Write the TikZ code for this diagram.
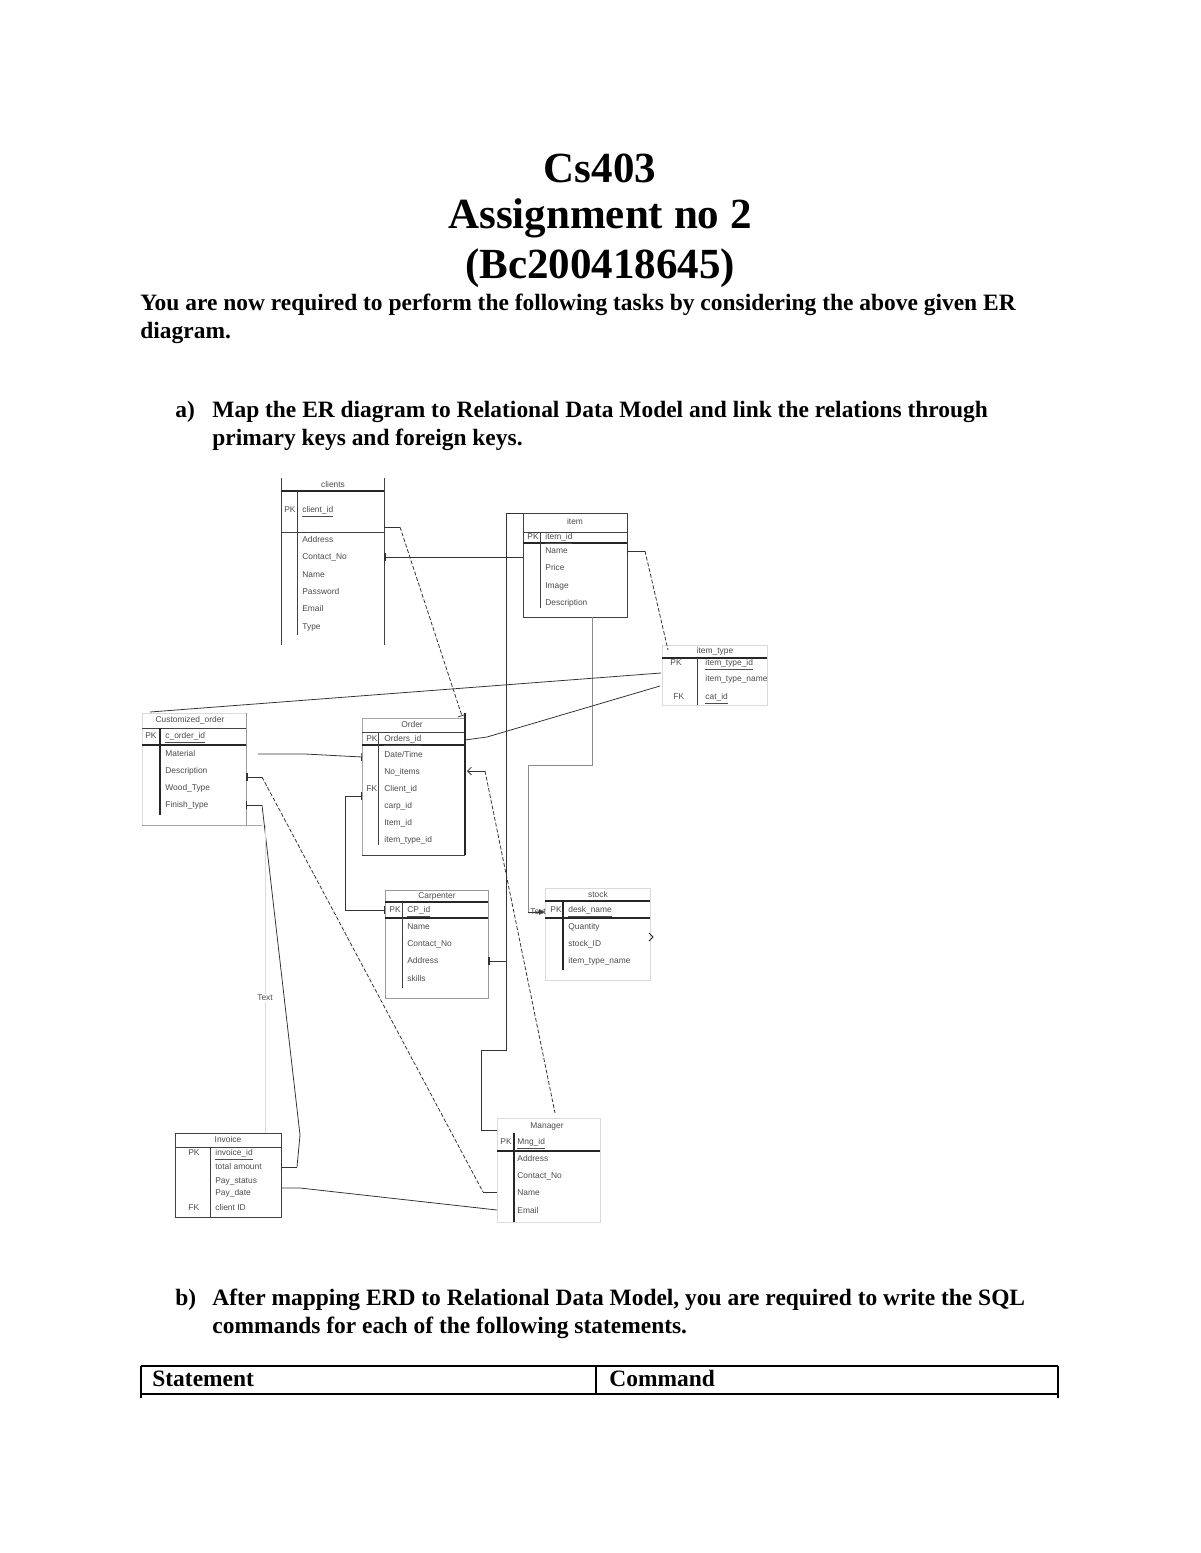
\documentclass[tikz,border=0pt]{standalone}
\usepackage{fontspec}
\setmainfont{Liberation Serif}
\newfontfamily\erfont{Liberation Sans}
\usetikzlibrary{arrows.meta}
\begin{document}
\begin{tikzpicture}[x=0.51181pt,y=-0.51181pt,
  ttl/.style={font=\fontsize{22}{26}\selectfont\bfseries, inner sep=0pt},
  body/.style={font=\fontsize{12}{14}\selectfont\bfseries, anchor=west, inner sep=0pt, text height=8.4pt, text depth=2.6pt},
  er/.style={font=\erfont\fontsize{4.3}{5}\selectfont, text=black!70, inner sep=0pt, anchor=west, text height=3.3pt, text depth=1.1pt},
  erc/.style={er, anchor=center},
  ln/.style={draw=black!75, line width=0.45pt},
  thk/.style={draw=black!85, line width=0.9pt},
  faint/.style={draw=black!15, line width=0.4pt},
  con/.style={draw=black!80, line width=0.4pt},
  dcon/.style={con, dash pattern=on 2pt off 1pt},
  mk/.style={draw=black!85, line width=0.5pt}
]
\useasboundingbox (0,0) rectangle (1200,1553);
\fill[white] (0,0) rectangle (1200,1553);

% ---------------- headings ----------------
\node[ttl] (h1) at (600,168) {Cs403};
\node[ttl] (h2) at (600,218) {Assignment no 2};
\node[ttl] (h3) at (600,268) {(Bc200418645)};
\node[body] (p1) at (140,305) {You are now required to perform the following tasks by considering the above given ER};
\node[body] (p2) at (140,333) {diagram.};
\node[body] (qa) at (175,412) {a)};
\node[body] (qa1) at (212,412) {Map the ER diagram to Relational Data Model and link the relations through};
\node[body] (qa2) at (212,440) {primary keys and foreign keys.};
\node[body] (qb) at (175,1300) {b)};
\node[body] (qb1) at (212,1300) {After mapping ERD to Relational Data Model, you are required to write the SQL};
\node[body] (qb2) at (212,1328) {commands for each of the following statements.};

% ---------------- table ----------------
\draw[line width=0.9pt] (141,1366) -- (1058,1366);
\draw[line width=0.7pt] (141,1394) -- (1058,1394);
\draw[line width=0.7pt] (141,1366) -- (141,1398);
\draw[line width=0.7pt] (596,1366) -- (596,1394);
\draw[line width=0.7pt] (1058,1366) -- (1058,1398);
\node[body] (ts) at (152,1381) {Statement};
\node[body] (tc) at (609,1381) {Command};

% ---------------- clients ----------------
\draw[ln] (281,478) -- (281,645);
\draw[ln] (384,478) -- (384,645);
\draw[thk] (281,491) -- (384,491);
\draw[ln] (281,532) -- (384,532);
\draw[ln] (297,491) -- (297,635);
\node[erc] (clT) at (333,485) {clients};
\node[er] (clPK) at (284,510) {PK};
\node[er] (clK) at (302,510) {\underline{client\_id}};
\node[er] (cl1) at (302,540) {Address};
\node[er] (cl2) at (302,557) {Contact\_No};
\node[er] (cl3) at (302,575) {Name};
\node[er] (cl4) at (302,592) {Password};
\node[er] (cl5) at (302,609) {Email};
\node[er] (cl6) at (302,627) {Type};

% ---------------- item ----------------
\draw[ln] (523,513) rectangle (627,617);
\draw[ln] (523,532) -- (627,532);
\draw[thk] (523,543) -- (627,543);
\draw[ln] (540,532) -- (540,608);
\node[erc] (itT) at (575,522) {item};
\node[er] (itPK) at (527,537) {PK};
\node[er] (itK) at (545,537) {\underline{item\_id}};
\node[er] (it1) at (545,551) {Name};
\node[er] (it2) at (545,568) {Price};
\node[er] (it3) at (545,586) {Image};
\node[er] (it4) at (545,603) {Description};

% ---------------- item_type ----------------
\draw[faint] (662,645) rectangle (767,705);
\draw[thk] (662,658) -- (767,658);
\draw[ln] (697,658) -- (697,705);
\node[erc] (tyT) at (715,651) {item\_type};
\node[er] (tyPK) at (670,663) {PK};
\node[er] (tyK) at (705,663) {\underline{item\_type\_id}};
\node[er] (ty1) at (705,679) {item\_type\_name};
\node[er] (tyFK) at (673,697) {FK};
\node[er] (ty2) at (705,697) {\underline{cat\_id}};

% ---------------- Customized_order ----------------
\draw[faint] (142,713) rectangle (246,825);
\draw[draw=black!40, line width=0.4pt] (246,713) -- (246,825);
\draw[ln] (142,728) -- (246,728);
\draw[thk] (142,745) -- (246,745);
\draw[thk] (160,728) -- (160,815);
\draw[draw=black!35, line width=0.4pt] (142,825) -- (262,825);
\node[erc] (coT) at (190,720) {Customized\_order};
\node[er] (coPK) at (145,736) {PK};
\node[er] (coK) at (165,736) {\underline{c\_order\_id}};
\node[er] (co1) at (165,754) {Material};
\node[er] (co2) at (165,771) {Description};
\node[er] (co3) at (165,788) {Wood\_Type};
\node[er] (co4) at (165,805) {Finish\_type};

% ---------------- Order ----------------
\draw[draw=black!35, line width=0.4pt] (362,718) -- (465,718);
\draw[draw=black!35, line width=0.4pt] (362,718) -- (362,855);
\draw[ln] (362,732) -- (465,732);
\draw[thk] (362,745) -- (465,745);
\draw[ln] (378,732) -- (378,845);
\draw[ln] (362,855) -- (465,855);
\draw[thk] (465,713) -- (465,855);
\node[erc] (orT) at (412,725) {Order};
\node[er] (orPK) at (366,739) {PK};
\node[er] (orK) at (384,739) {\underline{Orders\_id}};
\node[er] (or1) at (384,755) {Date/Time};
\node[er] (or2) at (384,772) {No\_items};
\node[er] (orFK) at (366,789) {FK};
\node[er] (or3) at (384,789) {Client\_id};
\node[er] (or4) at (384,806) {carp\_id};
\node[er] (or5) at (384,823) {Item\_id};
\node[er] (or6) at (384,840) {item\_type\_id};

% ---------------- Carpenter ----------------
\draw[draw=black!40, line width=0.4pt] (385,890) rectangle (488,998);
\draw[thk] (385,902) -- (488,902);
\draw[thk] (385,918) -- (488,918);
\draw[ln] (402,902) -- (402,988);
\node[erc] (caT) at (437,896) {Carpenter};
\node[er] (caPK) at (389,910) {PK};
\node[er] (caK) at (407,910) {\underline{CP\_id}};
\node[er] (ca1) at (407,927) {Name};
\node[er] (ca2) at (407,944) {Contact\_No};
\node[er] (ca3) at (407,961) {Address};
\node[er] (ca4) at (407,979) {skills};

% ---------------- stock ----------------
\draw[faint] (545,888) rectangle (650,980);
\draw[thk] (545,901) -- (650,901);
\draw[thk] (545,918) -- (650,918);
\draw[thk] (563,901) -- (563,970);
\node[erc] (stT) at (598,895) {stock};
\node[er] (stPK) at (550,910) {PK};
\node[er] (stK) at (568,910) {\underline{desk\_name}};
\node[er] (st1) at (568,927) {Quantity};
\node[er] (st2) at (568,944) {stock\_ID};
\node[er] (st3) at (568,961) {item\_type\_name};
\draw[mk] (649,933) -- (653,937) -- (649,941);

% ---------------- Invoice ----------------
\draw[ln] (175,1133) rectangle (281,1217);
\draw[ln] (175,1147) -- (281,1147);
\draw[ln] (210,1147) -- (210,1217);
\node[erc] (inT) at (228,1140) {Invoice};
\node[er] (inPK) at (188,1153) {PK};
\node[er] (inK) at (215,1153) {\underline{invoice\_id}};
\node[er] (in1) at (215,1167) {total amount};
\node[er] (in2) at (215,1181) {Pay\_status};
\node[er] (in3) at (215,1193) {Pay\_date};
\node[er] (inFK) at (188,1208) {FK};
\node[er] (in4) at (215,1208) {client ID};

% ---------------- Manager ----------------
\draw[faint] (497,1118) rectangle (600,1222);
\draw[thk] (497,1151) -- (600,1151);
\draw[thk] (514,1133) -- (514,1222);
\node[erc] (maT) at (547,1126) {Manager};
\node[er] (maPK) at (500,1142) {PK};
\node[er] (maK) at (517,1142) {\underline{Mng\_id}};
\node[er] (ma1) at (517,1159) {Address};
\node[er] (ma2) at (517,1176) {Contact\_No};
\node[er] (ma3) at (517,1193) {Name};
\node[er] (ma4) at (517,1211) {Email};

% ---------------- connector end points ----------------
\coordinate (c1a) at (384,527); \coordinate (c1b) at (400,527); \coordinate (c1c) at (462,716);
\coordinate (c2a) at (384,557); \coordinate (c2b) at (523,557);
\coordinate (c3a) at (523,513); \coordinate (c3b) at (506,513); \coordinate (c3c) at (506,1050);
\coordinate (c3d) at (481,1050); \coordinate (c3e) at (481,1130); \coordinate (c3f) at (497,1130);
\coordinate (c4a) at (592,617); \coordinate (c4b) at (592,765); \coordinate (c4c) at (528,765);
\coordinate (c4d) at (528,912); \coordinate (c4e) at (545,912);
\coordinate (c5a) at (627,551); \coordinate (c5b) at (645,551); \coordinate (c5c) at (668,650);
\coordinate (c6a) at (150,712); \coordinate (c6b) at (661,673);
\coordinate (c7a) at (465,740); \coordinate (c7b) at (487,737); \coordinate (c7c) at (660,686);
\coordinate (c8a) at (258,754); \coordinate (c8b) at (305,754); \coordinate (c8c) at (362,757);
\coordinate (c9a) at (362,796); \coordinate (c9b) at (345,796); \coordinate (c9c) at (345,910); \coordinate (c9d) at (385,910);
\coordinate (c10a) at (246,777); \coordinate (c10b) at (262,777); \coordinate (c10c) at (483,1192); \coordinate (c10d) at (497,1192);
\coordinate (c11a) at (246,805); \coordinate (c11b) at (262,805); \coordinate (c11c) at (300,1135); \coordinate (c11d) at (297,1167); \coordinate (c11e) at (281,1167);
\coordinate (c12a) at (467,771); \coordinate (c12b) at (485,771); \coordinate (c12c) at (555,1113);
\coordinate (c13a) at (488,961); \coordinate (c13b) at (506,961);
\coordinate (c14a) at (281,1188); \coordinate (c14b) at (300,1188); \coordinate (c14c) at (497,1210);
\coordinate (c15a) at (265,825); \coordinate (c15b) at (265,1133);

% ---------------- connectors ----------------
\draw[con] (c1a) -- (c1b);
\draw[dcon, -{Bar[width=4pt]}] (c1b) -- (c1c);
\draw[con, {Bar[width=4pt]Bar[width=4pt]}-] (c2a) -- (c2b);
\draw[con] (c3a) -- (c3b) -- (c3c) -- (c3d) -- (c3e) -- (c3f);
\draw[draw=black!45, line width=0.4pt] (c4a) -- (c4b) -- (c4c) -- (c4d);
\draw[con, -{Latex[length=3pt,width=3pt]}] (c4d) -- (c4e);
\draw[con, {Bar[width=4pt]}-] (c5a) -- (c5b);
\draw[dcon] (c5b) -- (c5c);
\draw[con] (c6a) -- (c6b);
\draw[con] (c7a) -- (c7b) -- (c7c);
\draw[con, -{Bar[width=4pt]}] (c8a) -- (c8b) -- (c8c);
\draw[con, -{Bar[width=4pt]}] (c9b) -- (c9a);
\draw[con] (c9b) -- (c9c);
\draw[con, -{Bar[width=4pt]}] (c9c) -- (c9d);
\draw[con, {Bar[width=4pt]Bar[width=4pt]}-] (c10a) -- (c10b);
\draw[dcon] (c10b) -- (c10c);
\draw[con] (c10c) -- (c10d);
\draw[con, {Bar[width=4pt]}-] (c11a) -- (c11b);
\draw[con] (c11b) -- (c11c) -- (c11d);
\draw[con, -{Bar[width=4pt]}] (c11d) -- (c11e);
\draw[con, {Straight Barb[length=2pt,width=4pt]}-] (c12a) -- (c12b);
\draw[dcon] (c12b) -- (c12c);
\draw[con, {Bar[width=4pt]Bar[width=4pt]}-] (c13a) -- (c13b);
\draw[con] (c14a) -- (c14b) -- (c14c);
\draw[draw=black!15, line width=0.4pt] (c15a) -- (c15b);
\node[erc, fill=white] (lbl1) at (265,998) {Text};
\node[er] (lbl2) at (530,912) {Text};
\end{tikzpicture}
\end{document}
